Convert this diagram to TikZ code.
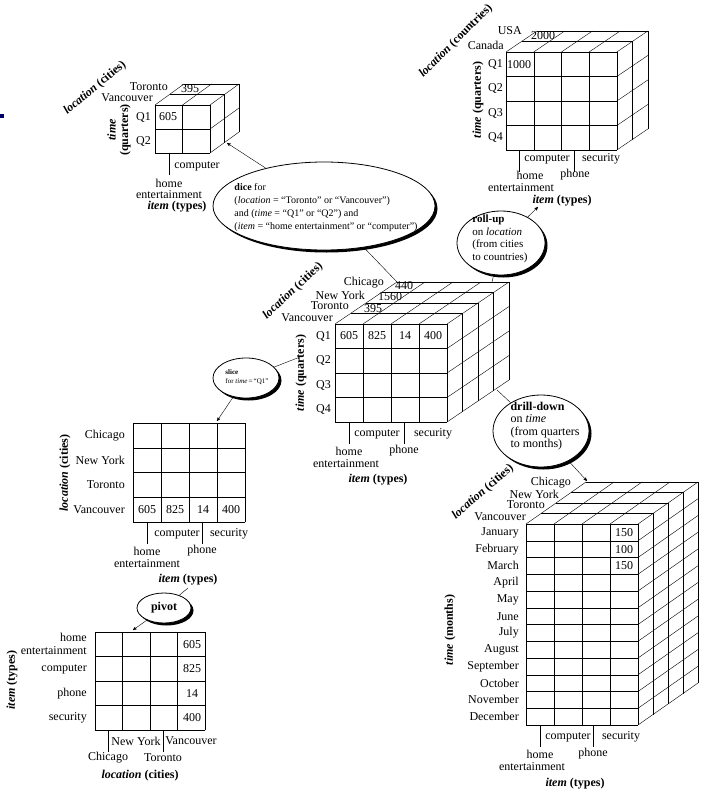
\documentclass[tikz,border=0pt]{standalone}
\usepackage{fontspec}
\setmainfont{Liberation Serif}
\usetikzlibrary{shapes,shadows,calc,arrows}

% front face, top face and right face of a data cube
% #1,#2 front top-left corner, #3 cols, #4 rows, #5 cell width, #6 cell height, #7 layers, #8 layer step
\newcommand{\datacube}[8]{%
  \foreach \i in {0,...,#3} \draw ({#1+\i*#5},#2) -- ++(0,{#4*#6});
  \foreach \j in {0,...,#4} \draw (#1,{#2+\j*#6}) -- ++({#3*#5},0);
  \foreach \i in {0,...,#3} \draw ({#1+\i*#5},#2) -- ++({#7*#8},{-#7*10.5});
  \foreach \j in {1,...,#4} \draw ({#1+#3*#5},{#2+\j*#6}) -- ++({#7*#8},{-#7*10.5});
  \foreach \k in {1,...,#7} \draw ({#1+\k*#8},{#2-\k*10.5}) -- ++({#3*#5},0) -- ++(0,{#4*#6});
}
% tick line below a cube
\newcommand{\itemtick}[2]{\draw (#1,#2) -- ++(0,22);}

\begin{document}
\begin{tikzpicture}[x=1pt, y=-1pt,
				font=\fontsize{12}{13}\selectfont,
				every node/.style={inner sep=0pt},
				op/.style={
				% The shape:
				ellipse,
				% The border:
				draw=black, line width=0.8pt,
				% The filling:
				fill=white,
				general shadow={shadow xshift=2.5pt, shadow yshift=-2.5pt, fill=black}
				},
				optext/.style={align=left},
				opline/.style={draw, thin},
				oparrow/.style={draw, thin, -stealth'},
				]
    \useasboundingbox (0,0) rectangle (711,792);
    \fill[blue!40!black] (0,114) rectangle (4,118);

    % ---------------- central cube ----------------
    \datacube{335}{324}{4}{4}{28}{24.5}{4}{15.5}
    \node[anchor=east] (cv) at (333,318) {Vancouver};
    \node[anchor=east] (ct) at (349,306) {Toronto};
    \node[anchor=east] (cn) at (365,295) {New York};
    \node[anchor=east] (cc) at (384,283) {Chicago};
    \node (c395) at (373,309) {395};
    \node (c1560) at (390,297) {1560};
    \node (c440) at (404,286) {440};
    \foreach \q [count=\n] in {Q1,Q2,Q3,Q4}
      \node[anchor=east] (cq\n) at (331,{324+(\n-0.5)*24.5}) {\q};
    \foreach \v [count=\n] in {605,825,14,400}
      \node (cx\n) at ({335+(\n-0.5)*28},336) {\v};
    \itemtick{349}{422} \itemtick{404}{422}
    \node (ccomp) at (377,434) {computer};
    \node (csec) at (433,434) {security};
    \node (chome) at (349,451) {home};
    \node (cphone) at (404,451) {phone};
    \node (cent) at (346,464) {entertainment};
    \node (citem) at (378,480) {\textbf{\textit{item}} \textbf{(types)}};
    \node[rotate=90] (ctime) at (301,373) {\textbf{\textit{time}} \textbf{(quarters)}};
    \node[rotate=43] (cloc) at (293,291) {\textbf{\textit{location}} \textbf{(cities)}};

    % ---------------- dice cube ----------------
    \datacube{155}{105}{2}{2}{27.5}{24}{2}{14.5}
    \node[anchor=east] (dv) at (153,98) {Vancouver};
    \node[anchor=east] (dt) at (168,87) {Toronto};
    \node (d395) at (190,89) {395};
    \node[anchor=east] (dq1) at (151,117) {Q1};
    \node[anchor=east] (dq2) at (151,141) {Q2};
    \node (d605) at (168,117) {605};
    \itemtick{169}{153}
    \node (dcomp) at (197,166) {computer};
    \node (dhome) at (169,183) {home};
    \node (dent) at (169,195) {entertainment};
    \node (ditem) at (177,207) {\textbf{\textit{item}} \textbf{(types)}};
    \node[rotate=90, align=center, font=\fontsize{12}{12.5}\selectfont] (dtime) at (119,130) {\textbf{\textit{time}}\\\textbf{(quarters)}};
    \node[rotate=40] (dloc) at (95,88) {\textbf{\textit{location}} \textbf{(cities)}};

    % ---------------- roll-up cube ----------------
    \datacube{506}{52}{4}{4}{27.7}{24.5}{2}{15.5}
    \node[anchor=east] (rca) at (504,45) {Canada};
    \node[anchor=east] (rus) at (522,31) {USA};
    \node (r2000) at (543,36) {2000};
    \foreach \q [count=\n] in {Q1,Q2,Q3,Q4}
      \node[anchor=east] (rq\n) at (503,{52+(\n-0.5)*24.5}) {\q};
    \node (r1000) at (519,65) {1000};
    \itemtick{519}{150} \itemtick{574}{150}
    \node (rcomp) at (547,159) {computer};
    \node (rsec) at (601,159) {security};
    \node (rhome) at (530,175) {home};
    \node (rphone) at (575,175) {phone};
    \node (rent) at (521,188) {entertainment};
    \node (ritem) at (562,201) {\textbf{\textit{item}} \textbf{(types)}};
    \node[rotate=90] (rtime) at (478,100) {\textbf{\textit{time}} \textbf{(quarters)}};
    \node[rotate=45] (rloc) at (456,41) {\textbf{\textit{location}} \textbf{(countries)}};

    % ---------------- slice ----------------
    \foreach \i in {0,...,4} \draw ({133+\i*28},423) -- ++(0,99);
    \foreach \j in {0,...,4} \draw (133,{423+\j*24.75}) -- ++(112,0);
    \foreach \c [count=\n] in {Chicago,New York,Toronto,Vancouver}
      \node[anchor=east] (sc\n) at (125,{423+(\n-0.5)*24.75}) {\c};
    \foreach \v [count=\n] in {605,825,14,400}
      \node (sx\n) at ({133+(\n-0.5)*28},510) {\v};
    \itemtick{147}{522} \itemtick{202}{522}
    \node (scomp) at (177,534) {computer};
    \node (ssec) at (229,534) {security};
    \node (shome) at (147,551) {home};
    \node (sphone) at (202,551) {phone};
    \node (sent) at (147,564) {entertainment};
    \node (sitem) at (188,580) {\textbf{\textit{item}} \textbf{(types)}};
    \node[rotate=90] (sloc) at (65,473) {\textbf{\textit{location}} \textbf{(cities)}};

    % ---------------- pivot ----------------
    \foreach \i in {0,...,4} \draw ({95+\i*27.5},632) -- ++(0,98);
    \foreach \j in {0,...,4} \draw (95,{632+\j*24.5}) -- ++(110,0);
    \node[anchor=east, align=right] (ph) at (87,644) {home\\entertainment};
    \node[anchor=east] (pc) at (87,669) {computer};
    \node[anchor=east] (pp) at (87,694) {phone};
    \node[anchor=east] (ps) at (87,718) {security};
    \foreach \v [count=\n] in {605,825,14,400}
      \node (px\n) at (192,{632+(\n-0.5)*24.5}) {\v};
    \itemtick{108}{730} \itemtick{163}{730}
    \node (pny) at (136,741) {New York};
    \node (pva) at (191,741) {Vancouver};
    \node (pch) at (108,758) {Chicago};
    \node (pto) at (163,758) {Toronto};
    \node (ploc) at (140,776) {\textbf{\textit{location}} \textbf{(cities)}};
    \node[rotate=90] (pitem) at (12,680) {\textbf{\textit{item}} \textbf{(types)}};

    % ---------------- drill-down cube ----------------
    \datacube{526}{524}{4}{12}{28}{16.75}{4}{15}
    \node[anchor=east] (mv) at (526,517) {Vancouver};
    \node[anchor=east] (mt) at (545,505) {Toronto};
    \node[anchor=east] (mn) at (559,494) {New York};
    \node[anchor=east] (mc) at (571,483) {Chicago};
    \foreach \m [count=\n] in {January,February,March,April,May,June,July,August,September,October,November,December}
      \node[anchor=east] (mm\n) at (519,{524+(\n-0.5)*16.75}) {\m};
    \foreach \v [count=\n] in {150,100,150}
      \node (mx\n) at (624,{524+(\n-0.5)*16.75}) {\v};
    \itemtick{540}{725} \itemtick{593}{725}
    \node (mcomp) at (568,737) {computer};
    \node (msec) at (621,737) {security};
    \node (mhome) at (540,754) {home};
    \node (mphone) at (593,754) {phone};
    \node (ment) at (532,767) {entertainment};
    \node (mitem) at (575,784) {\textbf{\textit{item}} \textbf{(types)}};
    \node[rotate=90] (mtime) at (450,630) {\textbf{\textit{time}} \textbf{(months)}};
    \node[rotate=41] (mloc) at (483,492) {\textbf{\textit{location}} \textbf{(cities)}};

    % ---------------- operations ----------------
    \node[op, minimum width=222pt, minimum height=88pt] (dice) at (324,206) {};
    \node[optext, font=\fontsize{10}{13}\selectfont] (dicetext) at (326,208)
      {\textbf{dice} for\\(\textit{location} = ``Toronto'' or ``Vancouver'')\\and (\textit{time} = ``Q1'' or ``Q2'') and\\(\textit{item} = ``home entertainment'' or ``computer'')};
    \node[op, minimum width=88pt, minimum height=64pt] (rollup) at (501,243) {};
    \node[optext, font=\fontsize{11}{12.5}\selectfont] (rolluptext) at (500,239)
      {\textbf{roll-up}\\on \textit{location}\\(from cities\\to countries)};
    \node[op, minimum width=66pt, minimum height=40pt] (slice) at (246,378) {};
    \node[optext, font=\fontsize{7}{9}\selectfont] (slicetext) at (247,377)
      {\textbf{slice}\\for \textit{time}\,=\,``Q1''};
    \node[op, minimum width=96pt, minimum height=72pt] (drill) at (541,431) {};
    \node[optext, font=\fontsize{12}{12.5}\selectfont] (drilltext) at (545,426)
      {\textbf{drill-down}\\on \textit{time}\\(from quarters\\to months)};
    \node[op, minimum width=54pt, minimum height=30pt] (pivot) at (164,608) {};
    \node (pivottext) at (164,608) {\textbf{pivot}};

    \coordinate (dicetip) at (227,143);
    \coordinate (dicefrom) at (397,282);
    \coordinate (rolltip) at (538,207);
    \coordinate (rollfrom) at (492,282);
    \coordinate (slicetip) at (217,421);
    \coordinate (slicefrom) at (300,357);
    \coordinate (drilltip) at (587,481);
    \coordinate (drillfrom) at (497,390);
    \coordinate (pivottip) at (133,630);
    \coordinate (pivotfrom) at (188,588);

    \draw[opline] (dicefrom) -- (dice);
    \draw[oparrow] (dice) -- (dicetip);
    \draw[opline] (rollfrom) -- (rollup);
    \draw[oparrow] (rollup) -- (rolltip);
    \draw[opline] (slicefrom) -- (slice);
    \draw[oparrow] (slice) -- (slicetip);
    \draw[opline] (drillfrom) -- (drill);
    \draw[oparrow] (drill) -- (drilltip);
    \draw[opline] (pivotfrom) -- (pivot);
    \draw[oparrow] (pivot) -- (pivottip);
\end{tikzpicture}
\end{document}
